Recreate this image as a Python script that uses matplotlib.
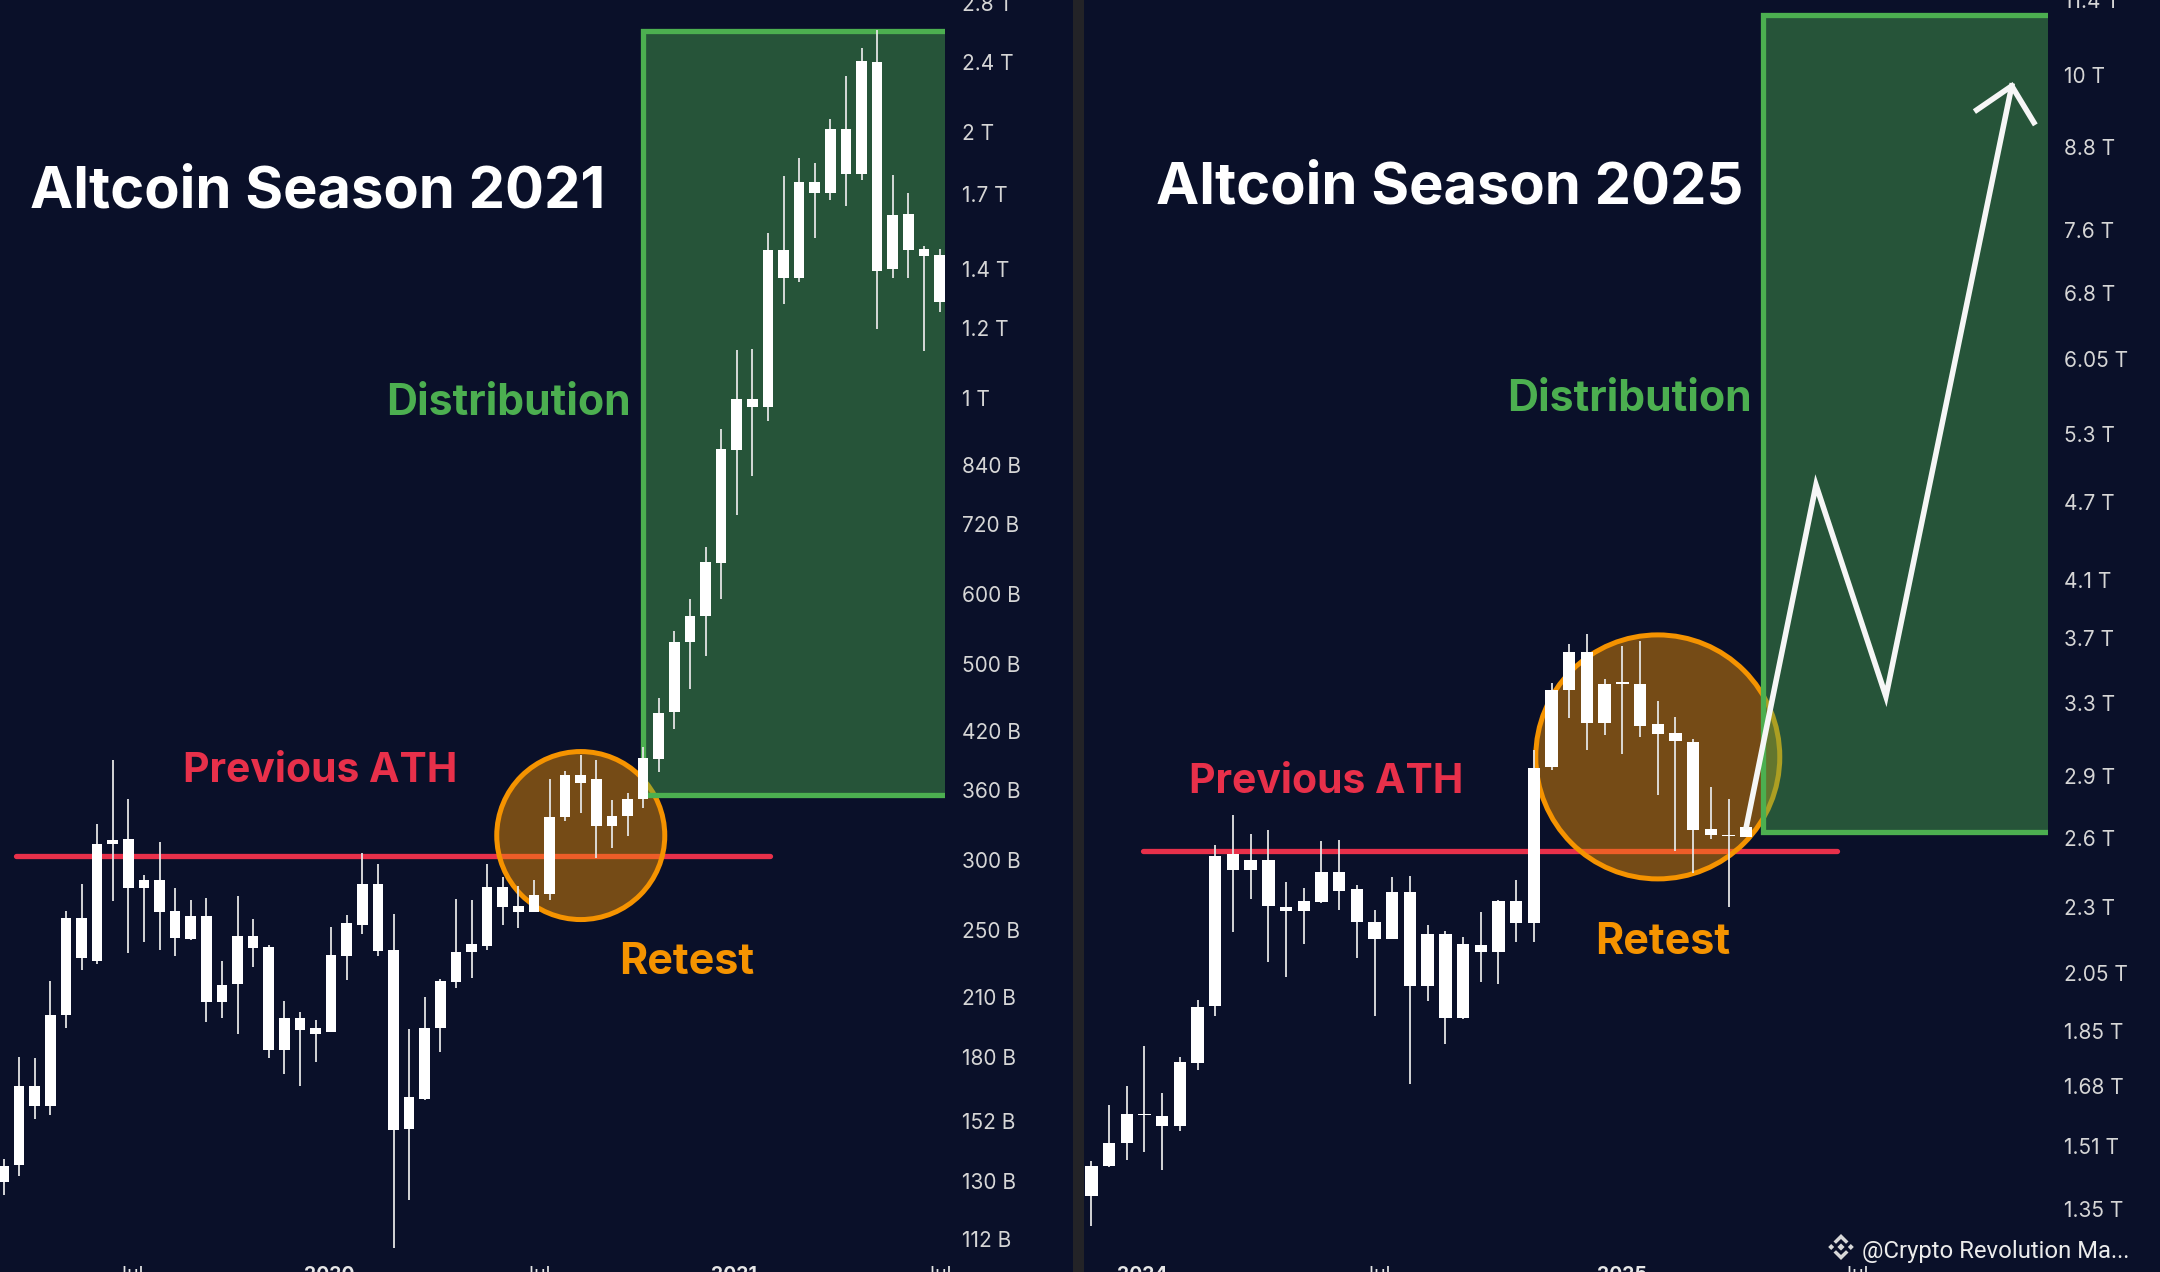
"""Altcoin season 2021 vs 2025 comparison, two weekly TOTAL2 style candle charts."""
import matplotlib
matplotlib.use("Agg")
import matplotlib.pyplot as plt
from matplotlib.patches import Circle, Polygon, Rectangle
from matplotlib.transforms import Affine2D

W, H = 2160, 1272

BG = "#0a1029"
DIVIDER = "#232327"
GREEN = "#4caf50"
GREEN_FILL = (0x4c / 255, 0xaf / 255, 0x50 / 255, 0.43)
RED = "#e8304a"
ORANGE = "#f59300"
ORANGE_FILL = (0xf5 / 255, 0x93 / 255, 0x00 / 255, 0.46)
TICK = "#d6d6d6"

# ---- 2021 candles, in billions ----
high_21 = [137.7, 179.8, 179.1, 219.1, 263.1, 281.8, 330, 389.2, 352.4, 289, 314.3, 278.8, 270.5, 272, 231,
           273.4, 257.5, 240.9, 208, 202.2, 197.8, 252.2, 260.4, 306, 296.8, 261.1, 193.3, 210.4, 220.1, 271.5,
           270.9, 296.8, 287.4, 280.9, 284.7, 371, 378.3, 394.5, 389.2, 350.6, 357.8, 403, 457.3, 545.7, 592.9,
           678.3, 923.6, 1132.4, 1136, 1537.8, 1781.7, 1866.7, 1843, 2067.5, 2310, 2488, 2604, 1789, 1707,
           1486.6, 1474]
top_21 = [135.3, 166.7, 166.7, 200.8, 258.1, 258.1, 312.8, 316, 317, 284.9, 284.9, 262.9, 259.5, 259.5, 217,
          246.4, 246.4, 239.2, 198.8, 198.8, 193.7, 234.7, 254.6, 282.3, 281.9, 237.7, 162.1, 194.1, 218.9, 236,
          241.1, 279.6, 279.6, 266.1, 274.4, 336, 375, 374.4, 371.1, 336.3, 352, 391.3, 440.8, 529.5, 566.2,
          652, 875.3, 997, 997, 1470.8, 1470.8, 1755.6, 1755.6, 2015, 2015, 2402, 2400, 1609, 1615, 1474, 1451]
bottom_21 = [129.7, 135.7, 158.3, 158.3, 200.8, 232.8, 231, 313.1, 278.8, 279.3, 262.3, 245, 244.5, 207.5, 207.5,
             217.4, 238.5, 183.2, 183.2, 192.8, 190.8, 191.9, 233.9, 253.7, 237.2, 148.8, 149, 161.2, 193.7, 218.5,
             236.3, 239.8, 265.4, 262.3, 262.3, 275.1, 336, 367, 328.2, 328, 336.7, 352, 390.4, 441.7, 529.5,
             566.2, 650, 873.5, 976.2, 976.2, 1367, 1365.6, 1707, 1707, 1793, 1793, 1391, 1397.6, 1470.8, 1447.6,
             1284]
low_21 = [125.6, 131.9, 153, 154.4, 193.7, 225.4, 229.3, 270, 235.8, 242.7, 237.8, 233.7, 243.7, 197, 199,
          191, 227.5, 179.5, 172.1, 166.9, 177.5, 191.9, 219.5, 247.9, 234, 109.4, 123.8, 160.9, 181.9, 215.4,
          220.8, 237.7, 253.7, 251.4, 261.9, 270.5, 332.5, 339.7, 301.9, 309.5, 320, 344, 377.9, 422.7, 468.5,
          511, 592.2, 736.6, 815.2, 941.3, 1278.6, 1351.6, 1518, 1675, 1647, 1766, 1197, 1368, 1368, 1130, 1252]

# ---- 2025 candles, in trillions ----
high_25 = [1.4716, 1.6230, 1.6783, 1.8014, 1.6589, 1.7671, 1.9537, 2.5703, 2.7096, 2.6189, 2.6373, 2.4066, 2.3792,
           2.5885, 2.5904, 2.3914, 2.2891, 2.4284, 2.4297, 2.2319, 2.2077, 2.1825, 2.2802, 2.3306, 2.4147, 3.0347,
           3.4195, 3.6606, 3.7245, 3.4401, 3.6488, 3.6826, 3.3127, 3.2211, 3.0945, 2.8472, 2.7837, 2.66]
top_25 = [1.4577, 1.5170, 1.5972, 1.5972, 1.5921, 1.7514, 1.9311, 2.5177, 2.5257, 2.5032, 2.5032, 2.3037, 2.3277,
          2.4502, 2.4502, 2.3775, 2.2422, 2.3631, 2.3631, 2.1964, 2.1964, 2.1556, 2.1545, 2.3277, 2.3277, 2.9444,
          3.3757, 3.6081, 3.6081, 3.4094, 3.4219, 3.4094, 3.1775, 3.1296, 3.0783, 2.6438, 2.6161, 2.652]
bottom_25 = [1.3814, 1.4567, 1.5180, 1.5941, 1.5656, 1.5645, 1.7468, 1.9338, 2.4580, 2.4580, 2.3069, 2.2875, 2.2875,
             2.3216, 2.3696, 2.2422, 2.1768, 2.1768, 2.0033, 2.0033, 1.8930, 1.8920, 2.1270, 2.1270, 2.2379, 2.2379,
             2.9459, 3.3781, 3.1827, 3.1827, 3.4141, 3.1702, 3.1253, 3.0831, 2.6382, 2.6161, 2.6083, 2.6064]
low_25 = [1.3123, 1.4546, 1.4735, 1.4947, 1.4474, 1.5513, 1.7278, 1.9003, 2.2034, 2.3334, 2.0891, 2.0332, 2.1573,
          2.3188, 2.2891, 2.1050, 1.8980, 2.1741, 1.6849, 1.9499, 1.8071, 1.8883, 2.0174, 2.0110, 2.1645, 2.1653,
          2.9302, 3.2136, 3.0368, 3.1162, 3.0137, 3.1060, 2.8048, 2.5423, 2.4422, 2.5945, 2.3007, 2.6064]

# ---- Axis ticks ----
ticks_21 = [2800, 2400, 2000, 1700, 1400, 1200, 1000, 840, 720, 600, 500, 420, 360, 300, 250, 210, 180, 152, 130, 112]
labels_21 = ["2.8 T", "2.4 T", "2 T", "1.7 T", "1.4 T", "1.2 T", "1 T", "840 B", "720 B", "600 B", "500 B",
             "420 B", "360 B", "300 B", "250 B", "210 B", "180 B", "152 B", "130 B", "112 B"]
ticks_25 = [11.4, 10, 8.8, 7.6, 6.8, 6.05, 5.3, 4.7, 4.1, 3.7, 3.3, 2.9, 2.6, 2.3, 2.05, 1.85, 1.68, 1.51, 1.35]
labels_25 = ["11.4 T", "10 T", "8.8 T", "7.6 T", "6.8 T", "6.05 T", "5.3 T", "4.7 T", "4.1 T", "3.7 T", "3.3 T",
             "2.9 T", "2.6 T", "2.3 T", "2.05 T", "1.85 T", "1.68 T", "1.51 T", "1.35 T"]
date_pos_21 = [8.1, 20.9, 34.2, 46.85, 59.9]
date_labels_21 = ["Jul", "2020", "Jul", "2021", "Jul"]
date_pos_25 = [2.9, 16.1, 30.0, 43.1]
date_labels_25 = ["2024", "Jul", "2025", "Jul"]

# ---- Drawn levels and zones ----
ath_21, ath_21_span = 303.6, (0.8, 49.1)
ath_25, ath_25_span = 2.539, (2.9, 42.1)
zone_21_x, zone_21_low, zone_21_high = 41.0, 356, 2602
zone_25_x, zone_25_low, zone_25_high = 37.94, 2.63, 11.107
retest_21 = (37.0, 320)
retest_25 = (32.0, 3.0)
path_x = [37.0, 40.94, 44.89, 52.0]
path_y = [2.651, 4.847, 3.338, 9.80]
head_x = [50.02, 52.0, 53.25]
head_y = [9.393, 9.80, 9.188]


def px_axes(left, right):
    return [left / W, 0, (right - left) / W, 1]


def draw_panel(ax, high, top, bottom, low, width, ylim, xlim, ticks, labels, dates, date_labels):
    ax.set_facecolor(BG)
    ax.set_yscale("log")
    ax.set_xlim(*xlim)
    ax.set_ylim(*ylim)
    for spine in ax.spines.values():
        spine.set_visible(False)

    x = list(range(len(high)))
    ax.vlines(x, low, high, color="#e4e4e4", linewidth=1.3, zorder=4)
    ax.bar(x, [t - b for t, b in zip(top, bottom)], bottom=bottom, width=width,
           color="white", linewidth=0, zorder=5)

    ax.yaxis.tick_right()
    ax.set_yticks(ticks)
    ax.set_yticklabels(labels, fontsize=15, color=TICK, family=["Inter", "DejaVu Sans"])
    ax.minorticks_off()
    ax.tick_params(axis="y", length=0, pad=12)

    ax.set_xticks(dates)
    ax.set_xticklabels(date_labels, fontsize=14, color="#e6e6e6", family=["Inter", "DejaVu Sans"])
    for lab in ax.get_xticklabels():
        if lab.get_text() != "Jul":
            lab.set_fontweight("bold")
    ax.tick_params(axis="x", length=0, pad=-4)


def draw_zones(ax, level, span, zone_x, zone_low, zone_high, center, radius):
    ax.plot(span, [level, level], color=RED, linewidth=3.8, solid_capstyle="round", zorder=1)
    cx, cy = ax.transData.transform(center)
    ax.add_patch(Circle((0, 0), radius, facecolor=ORANGE_FILL, edgecolor=ORANGE, linewidth=3.6,
                        transform=Affine2D().translate(cx, cy), zorder=2))
    ax.add_patch(Rectangle((zone_x, zone_low), 100, zone_high - zone_low, facecolor=GREEN_FILL,
                           edgecolor=GREEN, linewidth=3.8, zorder=3))


def label(x, y, text, color, size):
    fig.text(x / W, 1 - y / H, text, color=color, fontsize=size, fontweight="bold",
             family=["Inter", "DejaVu Sans"], ha="left", va="baseline", zorder=10)


plt.rcParams["font.family"] = ["Inter", "DejaVu Sans"]
fig = plt.figure(figsize=(W / 100, H / 100), dpi=100, facecolor=BG)

# Dark gutter between the two screenshots
fig.add_artist(Rectangle((1073 / W, 0), 11 / W, 1, facecolor=DIVIDER, edgecolor="none",
                         transform=fig.transFigure))

ax_21 = fig.add_axes(px_axes(0, 945))
draw_panel(ax_21, high_21, top_21, bottom_21, low_21, 0.68, (102.7, 2819), (-0.23, 60.35),
           ticks_21, labels_21, date_pos_21, date_labels_21)
draw_zones(ax_21, ath_21, ath_21_span, zone_21_x, zone_21_low, zone_21_high, retest_21, 84)

ax_25 = fig.add_axes(px_axes(1084, 2047.5))
draw_panel(ax_25, high_25, top_25, bottom_25, low_25, 0.7, (1.209, 11.405), (-0.418, 54.02),
           ticks_25, labels_25, date_pos_25, date_labels_25)
draw_zones(ax_25, ath_25, ath_25_span, zone_25_x, zone_25_low, zone_25_high, retest_25, 122)

# Projected path with open arrow head
ax_25.plot(path_x, path_y, color="#f6f6f6", linewidth=4.0, solid_joinstyle="miter", zorder=6)
ax_25.plot(head_x, head_y, color="#f6f6f6", linewidth=4.0, solid_joinstyle="miter", zorder=6)

# Annotations
label(30, 207, "Altcoin Season 2021", "white", 41.7)
label(1156, 204, "Altcoin Season 2025", "white", 41.7)
label(386, 415, "Distribution", GREEN, 30.8)
label(1507, 411, "Distribution", GREEN, 30.8)
label(183, 782, "Previous ATH", RED, 29.4)
label(1189, 793, "Previous ATH", RED, 29.4)
label(619, 974, "Retest", ORANGE, 31)
label(1595, 954, "Retest", ORANGE, 31)

# Watermark
fig.text(1862 / W, 1 - 1258 / H, "@Crypto Revolution Ma...", color="#ececec", fontsize=17.2,
         family=["Roboto", "DejaVu Sans"], ha="left", va="baseline")
logo = Affine2D().translate(1841, -1247 + H)
LOGO = "#d8d8d8"
for cx, cy, r in [(0, 0, 3.6), (-9.8, 0, 3.0), (9.8, 0, 3.0)]:
    fig.add_artist(Polygon([(cx - r, cy), (cx, cy + r), (cx + r, cy), (cx, cy - r)], closed=True,
                           facecolor=LOGO, edgecolor="none", transform=logo))
for sign in (1, -1):
    fig.add_artist(Polygon([(-7.5, sign * 5.5), (0, sign * 13), (7.5, sign * 5.5), (5, sign * 3.2),
                            (0, sign * 8), (-5, sign * 3.2)], closed=True,
                           facecolor=LOGO, edgecolor="none", transform=logo))

fig.savefig("out.png", dpi=100, facecolor=BG)
